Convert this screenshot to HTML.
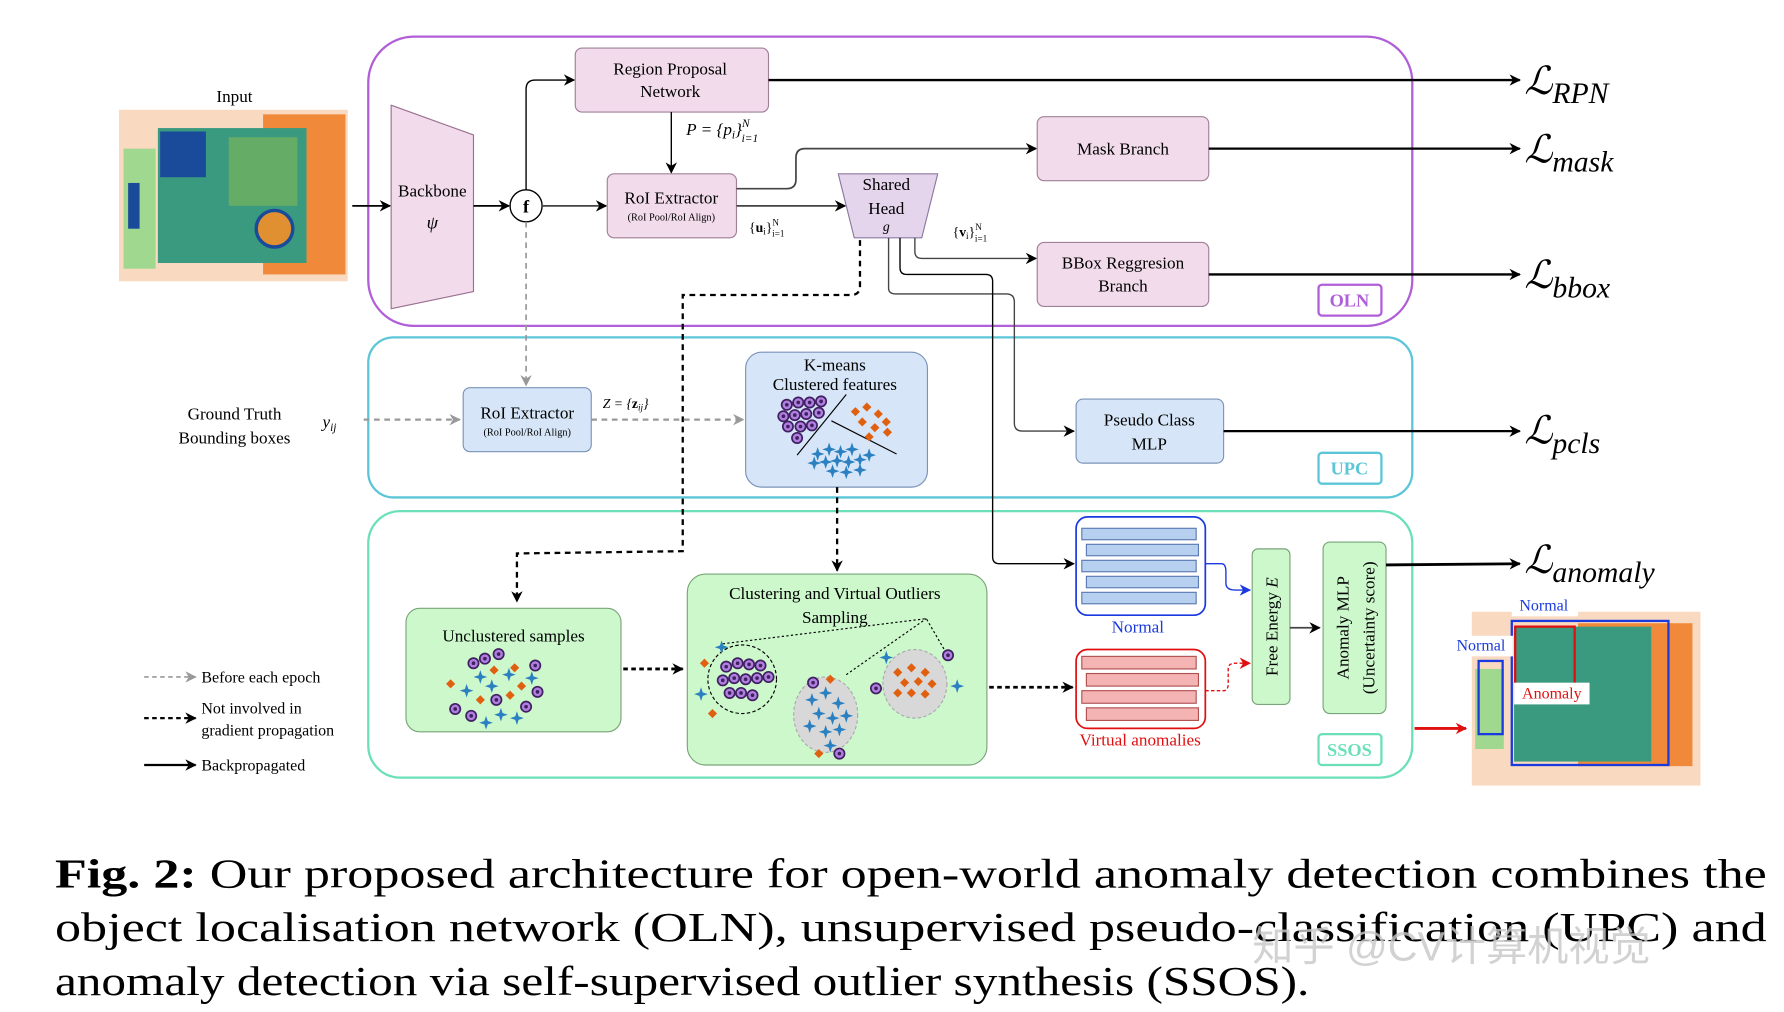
<!DOCTYPE html>
<html><head><meta charset="utf-8"><style>html,body{margin:0;padding:0;background:#fff}svg{display:block}text{font-family:"Liberation Serif",serif}</style></head><body>
<svg width="1784" height="1012" viewBox="0 0 1560 885" xmlns="http://www.w3.org/2000/svg">
<defs>
<marker id="a" markerWidth="10" markerHeight="10" refX="9" refY="5" orient="auto" markerUnits="userSpaceOnUse"><path d="M0,0 L10,5 L0,10 L3,5z" fill="#000"/></marker>
<marker id="ag" markerWidth="10" markerHeight="10" refX="9" refY="5" orient="auto" markerUnits="userSpaceOnUse"><path d="M0,0 L10,5 L0,10 L3,5z" fill="#999"/></marker>
<marker id="ab" markerWidth="10" markerHeight="10" refX="9" refY="5" orient="auto" markerUnits="userSpaceOnUse"><path d="M0,0 L10,5 L0,10 L3,5z" fill="#1a3adf"/></marker>
<marker id="ar" markerWidth="10" markerHeight="10" refX="9" refY="5" orient="auto" markerUnits="userSpaceOnUse"><path d="M0,0 L10,5 L0,10 L3,5z" fill="#e01010"/></marker>
<g id="st"><path d="M0,-6 L1.5,-1.5 L6,0 L1.5,1.5 L0,6 L-1.5,1.5 L-6,0 L-1.5,-1.5z" fill="#2a80c0"/></g>
<g id="ci"><circle r="4.5" fill="#b080e0" stroke="#402060" stroke-width="1.5"/><circle r="1.6" fill="#402060"/></g>
<g id="di"><path d="M0,-4 L4,0 L0,4 L-4,0z" fill="#e06010"/></g>
</defs>

<!-- Input image -->
<text x="205" y="89" font-size="15" text-anchor="middle">Input</text>
<rect x="104" y="96" width="200" height="150" fill="#f8d0b0" opacity="0.8"/>
<rect x="230" y="100" width="72" height="140" fill="#f08a3a"/>
<rect x="108" y="130" width="28" height="105" fill="#a0d890"/>
<rect x="138" y="112" width="130" height="118" fill="#3a9a80"/>
<rect x="140" y="115" width="40" height="40" fill="#1a4a9a"/>
<rect x="200" y="120" width="60" height="60" fill="#70b060" opacity="0.8"/>
<circle cx="240" cy="200" r="16" fill="#e09030" stroke="#1a4a9a" stroke-width="3"/>
<rect x="112" y="160" width="10" height="40" fill="#1a4a9a"/>

<!-- Group boxes -->
<rect x="322" y="32" width="913" height="253" rx="40" fill="none" stroke="#b05fd8" stroke-width="2"/>
<rect x="322" y="295" width="913" height="140" rx="22" fill="none" stroke="#5cc6d8" stroke-width="2"/>
<rect x="322" y="447" width="913" height="233" rx="28" fill="none" stroke="#6be0b8" stroke-width="2"/>
<rect x="1153" y="249" width="55" height="27" rx="3" fill="none" stroke="#b05fd8" stroke-width="2"/>
<text x="1180" y="268" font-size="16" font-weight="bold" fill="#b05fd8" text-anchor="middle">OLN</text>
<rect x="1153" y="396" width="55" height="27" rx="3" fill="none" stroke="#5cc6d8" stroke-width="2"/>
<text x="1180" y="415" font-size="16" font-weight="bold" fill="#5cc6d8" text-anchor="middle">UPC</text>
<rect x="1153" y="642" width="55" height="27" rx="3" fill="none" stroke="#6be0b8" stroke-width="2"/>
<text x="1180" y="661" font-size="16" font-weight="bold" fill="#6be0b8" text-anchor="middle">SSOS</text>

<!-- Backbone -->
<path d="M342,92 L414,118 L414,255 L342,270z" fill="#f2dcec" stroke="#9a7090" stroke-width="1" stroke-linejoin="round"/>
<text x="378" y="172" font-size="15" text-anchor="middle">Backbone</text>
<text x="378" y="200" font-size="16" font-style="italic" text-anchor="middle">ψ</text>
<line x1="308" y1="180" x2="341" y2="180" stroke="#000" stroke-width="1.5" marker-end="url(#a)"/>
<line x1="414" y1="180" x2="445" y2="180" stroke="#000" stroke-width="1.5" marker-end="url(#a)"/>
<circle cx="460" cy="180" r="14" fill="#fff" stroke="#000" stroke-width="1.2"/>
<text x="460" y="186" font-size="16" font-weight="bold" text-anchor="middle">f</text>
<path d="M460,166 L460,78 Q460,70 468,70 L502,70" fill="none" stroke="#000" stroke-width="1.2" marker-end="url(#a)"/>
<line x1="474" y1="180" x2="530" y2="180" stroke="#444" stroke-width="1.5" marker-end="url(#a)"/>

<!-- RPN -->
<rect x="503" y="42" width="169" height="56" rx="6" fill="#f2dcec" stroke="#a08098"/>
<text x="586" y="65" font-size="15" text-anchor="middle">Region Proposal</text>
<text x="586" y="85" font-size="15" text-anchor="middle">Network</text>
<line x1="672" y1="70" x2="1329" y2="70" stroke="#000" stroke-width="2" marker-end="url(#a)"/>
<line x1="587" y1="98" x2="587" y2="151" stroke="#000" stroke-width="1.2" marker-end="url(#a)"/>
<text x="600" y="118" font-size="15" font-style="italic">P = {p<tspan font-size="10" dy="3">i</tspan><tspan dy="-3">}</tspan><tspan font-size="10" dy="-7">N</tspan><tspan font-size="10" dx="-7" dy="13">i=1</tspan></text>

<!-- RoI -->
<rect x="531" y="152" width="113" height="56" rx="6" fill="#f2dcec" stroke="#a08098"/>
<text x="587" y="178" font-size="15" text-anchor="middle">RoI Extractor</text>
<text x="587" y="193" font-size="9" text-anchor="middle">(RoI Pool/RoI Align)</text>
<path d="M644,165 L688,165 Q696,165 696,157 L696,138 Q696,130 704,130 L906,130" fill="none" stroke="#444" stroke-width="1.5" marker-end="url(#a)"/>
<line x1="644" y1="180" x2="739" y2="180" stroke="#444" stroke-width="1.5" marker-end="url(#a)"/>
<text x="655" y="203" font-size="12">{<tspan font-weight="bold">u</tspan><tspan font-size="8" dy="2">i</tspan><tspan dy="-2">}</tspan><tspan font-size="8" dy="-6">N</tspan><tspan font-size="8" dx="-6" dy="10">i=1</tspan></text>

<!-- Mask -->
<rect x="907" y="102" width="150" height="56" rx="6" fill="#f2dcec" stroke="#a08098"/>
<text x="982" y="135" font-size="15" text-anchor="middle">Mask Branch</text>
<line x1="1057" y1="130" x2="1329" y2="130" stroke="#000" stroke-width="2" marker-end="url(#a)"/>

<!-- Shared head -->
<path d="M733,152 L820,152 L806,208 L747,208z" fill="#e4d4ec" stroke="#8a7aa0" stroke-linejoin="round"/>
<text x="775" y="166" font-size="15" text-anchor="middle">Shared</text>
<text x="775" y="187" font-size="15" text-anchor="middle">Head</text>
<text x="775" y="202" font-size="12" font-style="italic" text-anchor="middle">g</text>
<path d="M800,208 L800,220 Q800,226 806,226 L906,226" fill="none" stroke="#444" stroke-width="1.2" marker-end="url(#a)"/>
<text x="833" y="207" font-size="12">{<tspan font-weight="bold">v</tspan><tspan font-size="8" dy="2">i</tspan><tspan dy="-2">}</tspan><tspan font-size="8" dy="-6">N</tspan><tspan font-size="8" dx="-6" dy="10">i=1</tspan></text>
<path d="M777,208 L777,252 Q777,257 783,257 L880,257 Q887,257 887,264 L887,370 Q887,377 894,377 L939,377" fill="none" stroke="#444" stroke-width="1.2" marker-end="url(#a)"/>
<path d="M787,208 L787,234 Q787,240 793,240 L862,240 Q868,240 868,246 L868,487 Q868,493 874,493 L939,493" fill="none" stroke="#000" stroke-width="1.2" marker-end="url(#a)"/>
<path d="M752,210 L752,250 Q752,258 744,258 L597,258 L597,482 L452,484 L452,526" fill="none" stroke="#000" stroke-width="2" stroke-dasharray="5,4" marker-end="url(#a)"/>

<!-- BBox -->
<rect x="907" y="212" width="150" height="56" rx="6" fill="#f2dcec" stroke="#a08098"/>
<text x="982" y="235" font-size="15" text-anchor="middle">BBox Reggresion</text>
<text x="982" y="255" font-size="15" text-anchor="middle">Branch</text>
<line x1="1057" y1="240" x2="1329" y2="240" stroke="#000" stroke-width="2" marker-end="url(#a)"/>

<!-- Pseudo class -->
<rect x="941" y="349" width="129" height="56" rx="6" fill="#d6e6f8" stroke="#7a94b8"/>
<text x="1005" y="372" font-size="15" text-anchor="middle">Pseudo Class</text>
<text x="1005" y="393" font-size="15" text-anchor="middle">MLP</text>
<line x1="1070" y1="377" x2="1329" y2="377" stroke="#000" stroke-width="2" marker-end="url(#a)"/>

<!-- Losses -->
<g font-size="34" font-style="italic"><text x="1333" y="82">ℒ<tspan font-size="26" dy="8">RPN</tspan></text>
<text x="1333" y="142">ℒ<tspan font-size="26" dy="8">mask</tspan></text>
<text x="1333" y="252">ℒ<tspan font-size="26" dy="8">bbox</tspan></text>
<text x="1333" y="388">ℒ<tspan font-size="26" dy="8">pcls</tspan></text>
<text x="1333" y="501">ℒ<tspan font-size="26" dy="8">anomaly</tspan></text></g>

<!-- dashed gray from f -->
<line x1="460" y1="194" x2="460" y2="337" stroke="#999" stroke-width="1.5" stroke-dasharray="5,4" marker-end="url(#ag)"/>

<!-- UPC -->
<text x="205" y="367" font-size="15" text-anchor="middle">Ground Truth</text>
<text x="205" y="388" font-size="15" text-anchor="middle">Bounding boxes</text>
<text x="282" y="374" font-size="15" font-style="italic">y<tspan font-size="10" dy="3">ij</tspan></text>
<line x1="318" y1="367" x2="402" y2="367" stroke="#999" stroke-width="2" stroke-dasharray="5,4" marker-end="url(#ag)"/>
<rect x="405" y="339" width="112" height="56" rx="6" fill="#d6e6f8" stroke="#7a94b8"/>
<text x="461" y="366" font-size="15" text-anchor="middle">RoI Extractor</text>
<text x="461" y="381" font-size="9" text-anchor="middle">(RoI Pool/RoI Align)</text>
<text x="527" y="357" font-size="12" font-style="italic">Z = {<tspan font-weight="bold" font-style="normal">z</tspan><tspan font-size="8" dy="2">ij</tspan><tspan dy="-2">}</tspan></text>
<line x1="517" y1="367" x2="650" y2="367" stroke="#999" stroke-width="2" stroke-dasharray="5,4" marker-end="url(#ag)"/>
<rect x="652" y="308" width="159" height="118" rx="14" fill="#d6e6f8" stroke="#7a94b8"/>
<text x="730" y="324" font-size="15" text-anchor="middle">K-means</text>
<text x="730" y="341" font-size="15" text-anchor="middle">Clustered features</text>
<line x1="740" y1="345" x2="697" y2="398" stroke="#000"/>
<line x1="727" y1="368" x2="784" y2="397" stroke="#000"/>
<use href="#ci" x="688" y="354"/><use href="#ci" x="698" y="352"/><use href="#ci" x="708" y="352"/><use href="#ci" x="718" y="351"/>
<use href="#ci" x="685" y="364"/><use href="#ci" x="695" y="363"/><use href="#ci" x="705" y="362"/><use href="#ci" x="716" y="361"/>
<use href="#ci" x="689" y="373"/><use href="#ci" x="700" y="373"/><use href="#ci" x="710" y="372"/><use href="#ci" x="697" y="383"/>
<use href="#di" x="748" y="360"/><use href="#di" x="758" y="356"/><use href="#di" x="768" y="362"/><use href="#di" x="775" y="369"/><use href="#di" x="754" y="369"/><use href="#di" x="765" y="374"/><use href="#di" x="776" y="378"/><use href="#di" x="760" y="382"/>
<use href="#st" x="715" y="397"/><use href="#st" x="725" y="393"/><use href="#st" x="735" y="395"/><use href="#st" x="745" y="393"/><use href="#st" x="712" y="405"/><use href="#st" x="722" y="404"/><use href="#st" x="732" y="403"/><use href="#st" x="742" y="404"/><use href="#st" x="752" y="402"/><use href="#st" x="728" y="412"/><use href="#st" x="740" y="413"/><use href="#st" x="752" y="411"/><use href="#st" x="760" y="398"/>
<line x1="732" y1="426" x2="732" y2="499" stroke="#000" stroke-width="2" stroke-dasharray="5,4" marker-end="url(#a)"/>

<!-- SSOS -->
<rect x="355" y="532" width="188" height="108" rx="12" fill="#ccf8cc" stroke="#7aa47a"/>
<text x="449" y="561" font-size="15" text-anchor="middle">Unclustered samples</text>
<use href="#ci" x="414" y="580"/><use href="#ci" x="424" y="576"/><use href="#ci" x="436" y="572"/><use href="#ci" x="468" y="582"/><use href="#ci" x="470" y="605"/><use href="#ci" x="398" y="620"/><use href="#ci" x="412" y="626"/><use href="#ci" x="434" y="612"/><use href="#ci" x="460" y="618"/>
<use href="#di" x="432" y="586"/><use href="#di" x="450" y="584"/><use href="#di" x="394" y="598"/><use href="#di" x="456" y="600"/><use href="#di" x="420" y="612"/><use href="#di" x="446" y="608"/>
<use href="#st" x="445" y="590"/><use href="#st" x="430" y="600"/><use href="#st" x="408" y="604"/><use href="#st" x="438" y="625"/><use href="#st" x="452" y="628"/><use href="#st" x="465" y="593"/><use href="#st" x="425" y="632"/><use href="#st" x="420" y="592"/>
<line x1="545" y1="585" x2="597" y2="585" stroke="#000" stroke-width="2.5" stroke-dasharray="4,3" marker-end="url(#a)"/>
<rect x="601" y="502" width="262" height="167" rx="16" fill="#ccf8cc" stroke="#7aa47a"/>
<text x="730" y="524" font-size="15" text-anchor="middle">Clustering and Virtual Outliers</text>
<text x="730" y="545" font-size="15" text-anchor="middle">Sampling</text>
<polyline points="632,563 810,541 828,572" fill="none" stroke="#000" stroke-dasharray="2,2"/>
<line x1="740" y1="590" x2="810" y2="541" stroke="#000" stroke-dasharray="2,2"/>
<circle cx="649" cy="594" r="30" fill="none" stroke="#000" stroke-dasharray="3,2"/>
<ellipse cx="722" cy="625" rx="28" ry="33" fill="#d8d8d8" stroke="#aaa" stroke-dasharray="3,2"/>
<ellipse cx="800" cy="598" rx="28" ry="30" fill="#d8d8d8" stroke="#aaa" stroke-dasharray="3,2"/>
<use href="#ci" x="635" y="583"/><use href="#ci" x="645" y="580"/><use href="#ci" x="655" y="581"/><use href="#ci" x="665" y="582"/><use href="#ci" x="632" y="595"/><use href="#ci" x="642" y="593"/><use href="#ci" x="652" y="594"/><use href="#ci" x="662" y="593"/><use href="#ci" x="672" y="592"/><use href="#ci" x="638" y="606"/><use href="#ci" x="648" y="606"/><use href="#ci" x="658" y="608"/>
<use href="#st" x="631" y="566"/><use href="#st" x="613" y="607"/><use href="#di" x="616" y="580"/><use href="#di" x="623" y="624"/>
<use href="#st" x="710" y="612"/><use href="#st" x="722" y="606"/><use href="#st" x="733" y="615"/><use href="#st" x="716" y="624"/><use href="#st" x="728" y="628"/><use href="#st" x="740" y="626"/><use href="#st" x="708" y="635"/><use href="#st" x="722" y="640"/><use href="#st" x="734" y="638"/><use href="#st" x="726" y="652"/>
<use href="#ci" x="711" y="597"/><use href="#di" x="726" y="594"/><use href="#di" x="716" y="659"/><use href="#ci" x="734" y="659"/>
<use href="#di" x="785" y="588"/><use href="#di" x="797" y="584"/><use href="#di" x="809" y="588"/><use href="#di" x="791" y="597"/><use href="#di" x="803" y="596"/><use href="#di" x="815" y="598"/><use href="#di" x="785" y="606"/><use href="#di" x="797" y="606"/><use href="#di" x="809" y="607"/>
<use href="#ci" x="766" y="602"/><use href="#ci" x="829" y="573"/><use href="#st" x="775" y="575"/><use href="#st" x="837" y="600"/>
<line x1="865" y1="601" x2="938" y2="601" stroke="#000" stroke-width="2.5" stroke-dasharray="4,3" marker-end="url(#a)"/>

<!-- Normal stack -->
<rect x="941" y="452" width="113" height="86" rx="10" fill="#fff" stroke="#1a3adf" stroke-width="1.5"/>
<g fill="#b8d0f0" stroke="#5a7ab0">
<rect x="946" y="462" width="100" height="10"/><rect x="950" y="476" width="98" height="10"/><rect x="946" y="490" width="100" height="10"/><rect x="950" y="504" width="98" height="10"/><rect x="946" y="518" width="100" height="10"/></g>
<text x="995" y="553" font-size="15" fill="#1a3adf" text-anchor="middle">Normal</text>
<rect x="941" y="568" width="113" height="69" rx="10" fill="#fff" stroke="#e01010" stroke-width="1.5"/>
<g fill="#f4b4b4" stroke="#b05050">
<rect x="946" y="574" width="100" height="11"/><rect x="950" y="589" width="98" height="11"/><rect x="946" y="604" width="100" height="11"/><rect x="950" y="619" width="98" height="11"/></g>
<text x="997" y="652" font-size="15" fill="#e01010" text-anchor="middle">Virtual anomalies</text>
<path d="M1054,493 L1068,493 Q1072,493 1072,500 L1072,510 Q1072,516 1080,516 L1093,516" fill="none" stroke="#1a3adf" stroke-width="1.2" marker-end="url(#ab)"/>
<path d="M1054,604 L1070,604 Q1074,604 1074,598 L1074,585 Q1074,580 1080,580 L1093,580" fill="none" stroke="#e01010" stroke-width="1.2" stroke-dasharray="3,2" marker-end="url(#ar)"/>

<rect x="1095" y="480" width="33" height="136" rx="5" fill="#ccf8cc" stroke="#7aa47a"/>
<text transform="translate(1117,548) rotate(-90)" font-size="15" text-anchor="middle">Free Energy  <tspan font-style="italic">E</tspan></text>
<line x1="1128" y1="549" x2="1154" y2="549" stroke="#444" stroke-width="1.5" marker-end="url(#a)"/>
<rect x="1157" y="474" width="55" height="150" rx="6" fill="#ccf8cc" stroke="#7aa47a"/>
<text transform="translate(1179,549) rotate(-90)" font-size="15" text-anchor="middle">Anomaly MLP</text>
<text transform="translate(1202,549) rotate(-90)" font-size="15" text-anchor="middle">(Uncertainty score)</text>
<line x1="1212" y1="494" x2="1329" y2="493" stroke="#000" stroke-width="2.5" marker-end="url(#a)"/>
<line x1="1237" y1="637" x2="1282" y2="637" stroke="#e01010" stroke-width="2.5" marker-end="url(#ar)"/>

<!-- Output image -->
<rect x="1287" y="535" width="200" height="152" fill="#f8d0b0" opacity="0.8"/>
<rect x="1380" y="545" width="100" height="125" fill="#f08a3a"/>
<rect x="1324" y="548" width="120" height="118" fill="#3a9a80"/>
<rect x="1290" y="585" width="25" height="70" fill="#a0d890"/>
<rect x="1322" y="543" width="137" height="126" fill="none" stroke="#1a3adf" stroke-width="2"/>
<rect x="1325" y="548" width="52" height="62" fill="none" stroke="#e01010" stroke-width="2"/>
<rect x="1293" y="578" width="21" height="64" fill="none" stroke="#1a3adf" stroke-width="2"/>
<rect x="1322" y="521" width="58" height="18" fill="#fff"/>
<text x="1350" y="534" font-size="14" fill="#1a3adf" text-anchor="middle">Normal</text>
<rect x="1268" y="556" width="55" height="18" fill="#fff"/>
<text x="1295" y="569" font-size="14" fill="#1a3adf" text-anchor="middle">Normal</text>
<rect x="1324" y="597" width="66" height="19" fill="#fff"/>
<text x="1357" y="611" font-size="14" fill="#e01010" text-anchor="middle">Anomaly</text>

<!-- Legend -->
<line x1="126" y1="592" x2="171" y2="592" stroke="#999" stroke-width="1.5" stroke-dasharray="4,3" marker-end="url(#ag)"/>
<text x="176" y="597" font-size="14">Before each epoch</text>
<line x1="126" y1="628" x2="171" y2="628" stroke="#000" stroke-width="2" stroke-dasharray="4,3" marker-end="url(#a)"/>
<text x="176" y="624" font-size="14">Not involved in</text>
<text x="176" y="643" font-size="14">gradient propagation</text>
<line x1="126" y1="669" x2="171" y2="669" stroke="#000" stroke-width="2" marker-end="url(#a)"/>
<text x="176" y="674" font-size="14">Backpropagated</text>

<!-- Caption -->
<text x="48" y="776" font-size="36" textLength="1497" lengthAdjust="spacingAndGlyphs"><tspan font-weight="bold">Fig. 2:</tspan> Our proposed architecture for open-world anomaly detection combines the</text>
<text x="48" y="823" font-size="36" textLength="1497" lengthAdjust="spacingAndGlyphs">object localisation network (OLN), unsupervised pseudo-classification (UPC) and</text>
<text x="48" y="870" font-size="36" textLength="1097" lengthAdjust="spacingAndGlyphs">anomaly detection via self-supervised outlier synthesis (SSOS).</text>
<text x="1095" y="840" font-size="36" fill="#c8c8c8" opacity="0.8" style="font-family:'Liberation Sans','Noto Sans CJK SC',sans-serif">知乎 @CV计算机视觉</text>
</svg>
</body></html>
